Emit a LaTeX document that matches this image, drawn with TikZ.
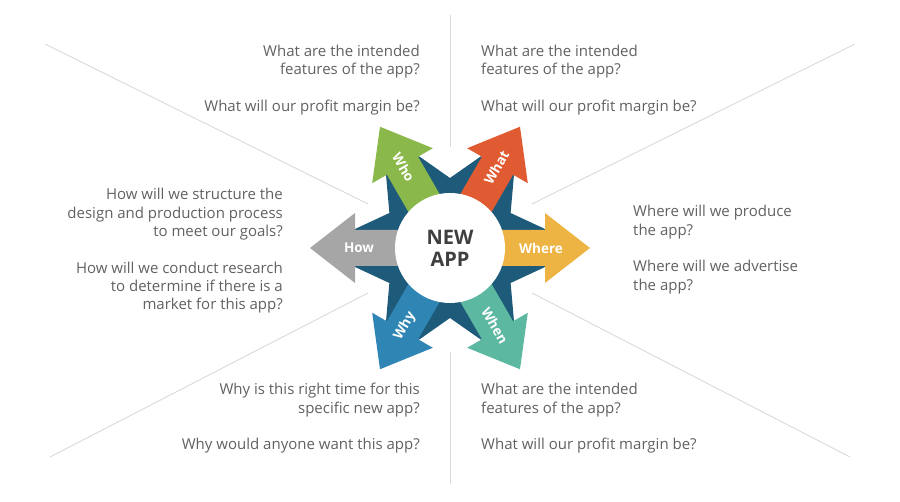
\documentclass[tikz,border=0pt]{standalone}
\usepackage{fontspec}
\setmainfont{Open Sans}
\usetikzlibrary{calc}
\definecolor{cgreen}{HTML}{8BB84A}
\definecolor{corange}{HTML}{E15B32}
\definecolor{cyellow}{HTML}{EDB443}
\definecolor{cteal}{HTML}{5CB8A0}
\definecolor{cblue}{HTML}{2F86B4}
\definecolor{cgray}{HTML}{A6A6A6}
\definecolor{cdark}{HTML}{1E5A7A}
\definecolor{qgray}{HTML}{616161}
\definecolor{lgray}{HTML}{D9D9D9}
\definecolor{tgray}{HTML}{3F3F3F}
\tikzset{
  qright/.style={anchor=base east, inner sep=0pt, text=qgray, font=\fontsize{15}{18.3}\selectfont},
  qleft/.style={anchor=base west, inner sep=0pt, text=qgray, font=\fontsize{15}{18.3}\selectfont},
  guide/.style={draw=lgray, line width=0.9pt},
  lbl/.style={text=white, font=\fontsize{13.5}{15}\selectfont\bfseries, inner sep=0pt},
}
\newcommand{\apparrow}[2]{%
  \begin{scope}[shift={(450,254)}, rotate=#1]
    \fill[#2] (0,-18) -- (95,-18) -- (95,-35) -- (140,0) -- (95,35) -- (95,18) -- (0,18) -- cycle;
  \end{scope}}
\begin{document}
\begin{tikzpicture}[x=1pt,y=1pt]
\useasboundingbox (0,0) rectangle (900,502);
% guide lines
\draw[guide] (450,487) -- (450,355);
\draw[guide] (450,150) -- (450,18);
\draw[guide] (45,458) -- (368,298);
\draw[guide] (855,458) -- (532,298);
\draw[guide] (50,45) -- (368,209);
\draw[guide] (850,45) -- (532,209);
% dark star
\fill[cdark, shift={(450,254)}] (-11.3:96.9)
  \foreach \a in {0,60,120,180,240,300} { -- (\a-11.3:96.9) -- (\a+11.3:96.9) -- (\a+30:70) } -- cycle;
% arrows
\apparrow{0}{cyellow}
\apparrow{60}{corange}
\apparrow{120}{cgreen}
\apparrow{180}{cgray}
\apparrow{240}{cblue}
\apparrow{300}{cteal}
% center circle
\node[circle, fill=white, minimum size=110pt, inner sep=0pt] (c) at (450,254) {};
\node[text=tgray, font=\fontsize{20}{22}\selectfont\bfseries, align=center, inner sep=0pt] (title) at (450,254) {NEW\\APP};
% arrow labels
\node[lbl] (lwhere) at ($(450,254)+(0:91)$) {Where};
\node[lbl, rotate=60] (lwhat) at ($(450,254)+(60:93)$) {What};
\node[lbl, rotate=-60] (lwho) at ($(450,254)+(120:93)$) {Who};
\node[lbl] (lhow) at ($(450,254)+(180:91)$) {How};
\node[lbl, rotate=60] (lwhy) at ($(450,254)+(240:90)$) {Why};
\node[lbl, rotate=-60] (lwhen) at ($(450,254)+(300:90)$) {When};
% questions
\node[qright] (qwho) at (420,445.3) {\begin{tabular}[t]{@{}r@{}}What are the intended\\features of the app?\\[18.3pt]What will our profit margin be?\end{tabular}};
\node[qleft] (qwhat) at (481,445.3) {\begin{tabular}[t]{@{}l@{}}What are the intended\\features of the app?\\[18.3pt]What will our profit margin be?\end{tabular}};
\node[qright] (qhow) at (283,302) {\begin{tabular}[t]{@{}r@{}}How will we structure the\\design and production process\\to meet our goals?\\[18.3pt]How will we conduct research\\to determine if there is a\\market for this app?\end{tabular}};
\node[qleft] (qwhere) at (633,285) {\begin{tabular}[t]{@{}l@{}}Where will we produce\\the app?\\[18.3pt]Where will we advertise\\the app?\end{tabular}};
\node[qright] (qwhy) at (420,107) {\begin{tabular}[t]{@{}r@{}}Why is this right time for this\\specific new app?\\[18.3pt]Why would anyone want this app?\end{tabular}};
\node[qleft] (qwhen) at (481,107) {\begin{tabular}[t]{@{}l@{}}What are the intended\\features of the app?\\[18.3pt]What will our profit margin be?\end{tabular}};
\end{tikzpicture}
\end{document}
